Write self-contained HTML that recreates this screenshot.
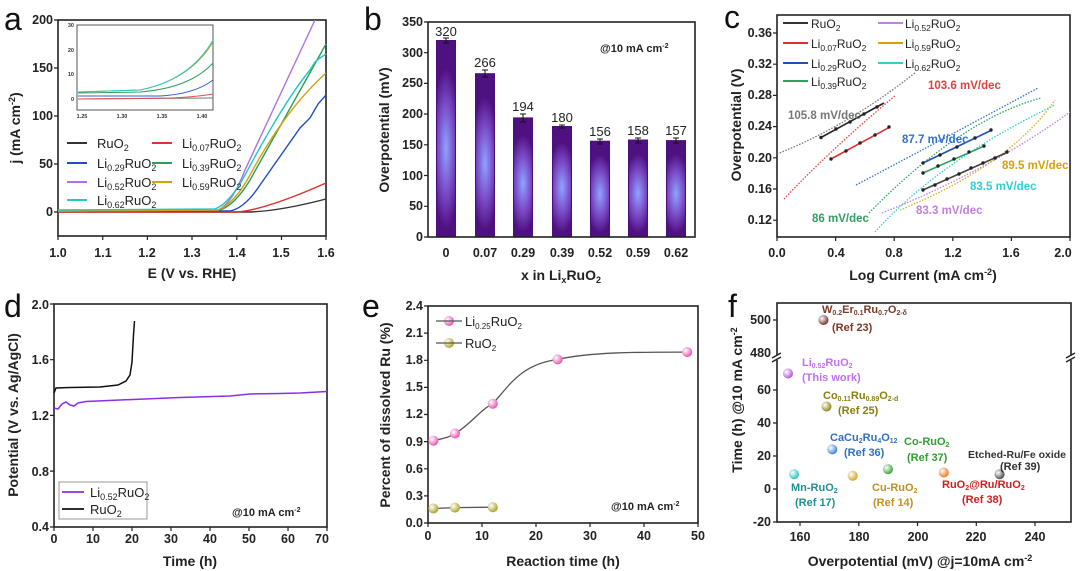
<!DOCTYPE html>
<html><head><meta charset="utf-8"><style>
html,body{margin:0;padding:0;background:#fff;}
svg{display:block;font-family:"Liberation Sans",Arial,sans-serif;}
.t{font-size:12.5px;font-weight:bold;fill:#222;}
.ti{font-size:14px;font-weight:bold;fill:#222;}
.L{font-size:32px;fill:#111;}
.lg{font-size:13px;fill:#222;}
.lc{font-size:12px;fill:#222;}
.sm{font-size:5.5px;font-weight:bold;fill:#333;}
.ax{fill:none;stroke:#222;stroke-width:1.6;}
</style></head><body>
<svg width="1080" height="571" viewBox="0 0 1080 571" xmlns="http://www.w3.org/2000/svg">
<defs>
<radialGradient id="bg" cx="0.5" cy="0.55" r="0.75" gradientTransform="translate(0.5 0.55) scale(1 0.55) translate(-0.5 -0.55)">
<stop offset="0" stop-color="#8fa4ff"/><stop offset="0.55" stop-color="#7a4cc8"/><stop offset="1" stop-color="#4f1080"/></radialGradient>
<radialGradient id="sp" cx="0.35" cy="0.35" r="0.7"><stop offset="0" stop-color="#fff"/><stop offset="1" stop-color="#fff" stop-opacity="0"/></radialGradient>
</defs>

<!-- ===== Panel a ===== -->
<text x="4" y="30" class="L">a</text>
<rect x="58" y="20" width="268" height="216" class="ax"/>
<g class="t" text-anchor="end">
<text x="53" y="24">200</text><text x="53" y="72">150</text><text x="53" y="120">100</text><text x="53" y="168">50</text><text x="53" y="216">0</text></g>
<g stroke="#222" stroke-width="1.2"><path d="M58,20h-4M58,68h-4M58,116h-4M58,164h-4M58,212h-4M58,236v4M102.7,236v4M147.4,236v4M192,236v4M236.8,236v4M281.5,236v4M326,236v4"/></g>
<g class="t" text-anchor="middle"><text x="58" y="257">1.0</text><text x="103" y="257">1.1</text><text x="147" y="257">1.2</text><text x="192" y="257">1.3</text><text x="237" y="257">1.4</text><text x="281" y="257">1.5</text><text x="326" y="257">1.6</text></g>
<text x="192" y="278" class="ti" text-anchor="middle">E (V vs. RHE)</text>
<text transform="translate(20,128) rotate(-90)" class="ti" text-anchor="middle">j (mA cm<tspan font-size="9" dy="-5">-2</tspan><tspan dy="5">)</tspan></text>
<g fill="none" stroke-width="1.4">
<path d="M58,212 L250,212 Q280,211 326,199" stroke="#333"/>
<path d="M58,212 L237,212 Q265,210 326,183" stroke="#e03030"/>
<path d="M58,211 L230,211 Q245,208 260,185 L300,128 L310,118 L318,104 L326,95" stroke="#2050c0"/>
<path d="M58,211 L220,210 Q235,205 250,180 L326,44" stroke="#2aa050"/>
<path d="M58,211 L218,210 Q232,204 245,170 L315,20" stroke="#b070e0"/>
<path d="M58,211 L218,210 Q235,203 250,175 Q285,110 326,73" stroke="#d4a010"/>
<path d="M58,210 L215,209 Q230,203 245,175 Q285,100 310,70 L315,62 L320,58 L326,54" stroke="#20c8c8"/>
</g>
<!-- inset -->
<rect x="77" y="25" width="136" height="85" fill="#fff" stroke="#555" stroke-width="1"/>
<g class="sm" text-anchor="end"><text x="74" y="27">30</text><text x="74" y="52">20</text><text x="74" y="76">10</text><text x="74" y="101">0</text></g>
<g class="sm" text-anchor="middle"><text x="82" y="118">1.25</text><text x="122" y="118">1.30</text><text x="162" y="118">1.35</text><text x="202" y="118">1.40</text></g>
<g fill="none" stroke-width="1">
<path d="M78,99 L213,98" stroke="#777"/>
<path d="M78,99 L170,98 Q195,97 213,94" stroke="#e05050"/>
<path d="M78,96 L160,96 Q195,94 213,80" stroke="#3060d0"/>
<path d="M78,93 L140,92 Q190,88 213,63" stroke="#30a060"/>
<path d="M78,92 L140,90 Q190,80 213,42" stroke="#b0a020"/>
<path d="M78,92 L140,90 Q190,80 213,40" stroke="#30c8c8"/>
</g>
<!-- legend a -->
<g stroke-width="2"><path d="M67,143h20" stroke="#333"/><path d="M152,143h20" stroke="#e03030"/><path d="M67,163h20" stroke="#2050c0"/><path d="M152,163h20" stroke="#2aa050"/><path d="M67,182h20" stroke="#b070e0"/><path d="M152,182h20" stroke="#d4a010"/><path d="M67,200h20" stroke="#20c8c8"/></g>
<g class="lg">
<text x="97" y="148">RuO<tspan font-size="9" dy="3">2</tspan></text>
<text x="182" y="148">Li<tspan font-size="9" dy="3">0.07</tspan><tspan dy="-3">RuO</tspan><tspan font-size="9" dy="3">2</tspan></text>
<text x="97" y="168">Li<tspan font-size="9" dy="3">0.29</tspan><tspan dy="-3">RuO</tspan><tspan font-size="9" dy="3">2</tspan></text>
<text x="182" y="168">Li<tspan font-size="9" dy="3">0.39</tspan><tspan dy="-3">RuO</tspan><tspan font-size="9" dy="3">2</tspan></text>
<text x="97" y="187">Li<tspan font-size="9" dy="3">0.52</tspan><tspan dy="-3">RuO</tspan><tspan font-size="9" dy="3">2</tspan></text>
<text x="182" y="187">Li<tspan font-size="9" dy="3">0.59</tspan><tspan dy="-3">RuO</tspan><tspan font-size="9" dy="3">2</tspan></text>
<text x="97" y="205">Li<tspan font-size="9" dy="3">0.62</tspan><tspan dy="-3">RuO</tspan><tspan font-size="9" dy="3">2</tspan></text>
</g>

<!-- ===== Panel b ===== -->
<text x="364" y="30" class="L">b</text>
<g>
<rect x="436.5" y="40.5" width="19" height="196.5" fill="url(#bg)" stroke="#4a0f78"/>
<rect x="475.5" y="73.7" width="19" height="163.3" fill="url(#bg)" stroke="#4a0f78"/>
<rect x="513.5" y="117.9" width="19" height="119.1" fill="url(#bg)" stroke="#4a0f78"/>
<rect x="552.5" y="126.5" width="19" height="110.5" fill="url(#bg)" stroke="#4a0f78"/>
<rect x="590.5" y="141.2" width="19" height="95.8" fill="url(#bg)" stroke="#4a0f78"/>
<rect x="628.5" y="140" width="19" height="97" fill="url(#bg)" stroke="#4a0f78"/>
<rect x="666.5" y="140.6" width="19" height="96.4" fill="url(#bg)" stroke="#4a0f78"/>
</g>
<g stroke="#111" stroke-width="1"><path d="M446,38v5M443,38h6M443,43h6M485,70v7M482,70h6M482,77h6M523,114v8M520,114h6M520,122h6M562,125v3M559,125h6M559,128h6M600,139v5M597,139h6M597,144h6M638,138v5M635,138h6M635,143h6M676,138v5M673,138h6M673,143h6"/></g>
<g font-size="13" fill="#222" text-anchor="middle"><text x="446" y="36">320</text><text x="485" y="67">266</text><text x="523" y="111">194</text><text x="562" y="122">180</text><text x="600" y="136">156</text><text x="638" y="135">158</text><text x="676" y="135">157</text></g>
<rect x="428" y="22" width="267" height="215" class="ax"/>
<g class="t" text-anchor="end"><text x="423" y="26">350</text><text x="423" y="57">300</text><text x="423" y="87">250</text><text x="423" y="118">200</text><text x="423" y="149">150</text><text x="423" y="180">100</text><text x="423" y="210">50</text><text x="423" y="241">0</text></g>
<g stroke="#222" stroke-width="1.2"><path d="M428,22h-4M428,52.7h-4M428,83.4h-4M428,114h-4M428,144.8h-4M428,175.5h-4M428,206.3h-4M428,237h-4"/></g>
<g class="t" text-anchor="middle"><text x="446" y="257">0</text><text x="485" y="257">0.07</text><text x="523" y="257">0.29</text><text x="562" y="257">0.39</text><text x="600" y="257">0.52</text><text x="638" y="257">0.59</text><text x="676" y="257">0.62</text></g>
<text x="561" y="280" class="ti" text-anchor="middle">x in Li<tspan font-size="9" dy="3">x</tspan><tspan dy="-3">RuO</tspan><tspan font-size="9" dy="3">2</tspan></text>
<text transform="translate(389,130) rotate(-90)" class="ti" text-anchor="middle">Overpotential (mV)</text>
<text x="600" y="52" font-size="11" font-weight="bold" fill="#222">@10 mA cm<tspan font-size="7" dy="-4">-2</tspan></text>

<!-- ===== Panel c ===== -->
<text x="724" y="28" class="L">c</text>
<rect x="777" y="15" width="293" height="222" class="ax"/>
<g class="t" text-anchor="end"><text x="772" y="37">0.36</text><text x="772" y="68">0.32</text><text x="772" y="99">0.28</text><text x="772" y="130">0.24</text><text x="772" y="162">0.20</text><text x="772" y="193">0.16</text><text x="772" y="224">0.12</text></g>
<g stroke="#222" stroke-width="1.2"><path d="M777,33h-4M777,64.2h-4M777,95.4h-4M777,126.6h-4M777,157.8h-4M777,189h-4M777,220.2h-4M777,237v4M835.6,237v4M894.2,237v4M952.8,237v4M1011.4,237v4M1070,237v4"/></g>
<g class="t" text-anchor="middle"><text x="777" y="257">0.0</text><text x="836" y="257">0.4</text><text x="894" y="257">0.8</text><text x="953" y="257">1.2</text><text x="1011" y="257">1.6</text><text x="1063" y="257">2.0</text></g>
<text x="923" y="280" class="ti" text-anchor="middle">Log Current (mA cm<tspan font-size="9" dy="-5">-2</tspan><tspan dy="5">)</tspan></text>
<text transform="translate(741,125) rotate(-90)" class="ti" text-anchor="middle">Overpotential (V)</text>
<g fill="none" stroke-width="1.3" stroke-dasharray="1.5,1.5">
<path d="M777,154 Q850,125 916,72" stroke="#777"/>
<path d="M784,199 Q830,150 896,95" stroke="#e04040"/>
<path d="M856,185 Q960,130 1038,88" stroke="#3070d0"/>
<path d="M869,213 Q960,120 1041,98" stroke="#30a060"/>
<path d="M875,232 Q940,160 1055,105" stroke="#30d0d0"/>
<path d="M882,213 Q990,170 1070,112" stroke="#c080e0"/>
<path d="M900,210 Q1010,165 1055,100" stroke="#d8b020"/>
</g>
<g fill="none" stroke-width="1.6">
<path d="M821,137.5 L884,103" stroke="#222"/>
<path d="M831,159 L890,127" stroke="#e03030"/>
<path d="M923,163 L992,130" stroke="#2050c0"/>
<path d="M923,173 L985,145.7" stroke="#30a060"/>
<path d="M923,190 L1008,152" stroke="#444"/>
</g>
<g fill="#222"><circle cx="821" cy="137.5" r="1.7"/><circle cx="836" cy="129" r="1.7"/><circle cx="850" cy="122" r="1.7"/><circle cx="864" cy="114" r="1.7"/><circle cx="877" cy="107" r="1.7"/>
<circle cx="831" cy="159" r="1.7"/><circle cx="846" cy="151" r="1.7"/><circle cx="860" cy="143" r="1.7"/><circle cx="875" cy="135" r="1.7"/><circle cx="889" cy="127" r="1.7"/>
<circle cx="923" cy="163" r="1.7"/><circle cx="940" cy="155" r="1.7"/><circle cx="957" cy="147" r="1.7"/><circle cx="975" cy="138" r="1.7"/><circle cx="991" cy="130" r="1.7"/>
<circle cx="923" cy="173" r="1.7"/><circle cx="938" cy="166" r="1.7"/><circle cx="954" cy="159" r="1.7"/><circle cx="969" cy="152" r="1.7"/><circle cx="984" cy="146" r="1.7"/>
<circle cx="923" cy="190" r="1.7"/><circle cx="935" cy="185" r="1.7"/><circle cx="947" cy="179" r="1.7"/><circle cx="959" cy="174" r="1.7"/><circle cx="971" cy="168" r="1.7"/><circle cx="983" cy="163" r="1.7"/><circle cx="995" cy="158" r="1.7"/><circle cx="1007" cy="152" r="1.7"/></g>
<g font-size="11.5" font-weight="bold"><text x="788" y="119" fill="#777">105.8 mV/dec</text><text x="928" y="89" fill="#e04040">103.6 mV/dec</text><text x="902" y="143" fill="#3070d0">87.7 mV/dec</text><text x="1002" y="169" fill="#d8a010">89.5 mV/dec</text><text x="970" y="190" fill="#30d0d0">83.5 mV/dec</text><text x="916" y="214" fill="#c080e0">83.3 mV/dec</text><text x="812" y="222" fill="#30a060">86 mV/dec</text></g>
<g stroke-width="2"><path d="M783,23h25" stroke="#333"/><path d="M783,43h25" stroke="#e03030"/><path d="M783,63h25" stroke="#2050c0"/><path d="M783,81h25" stroke="#30a060"/><path d="M878,23h25" stroke="#c080e0"/><path d="M878,43h25" stroke="#d4a010"/><path d="M878,63h25" stroke="#30d0d0"/></g>
<g class="lc">
<text x="811" y="28">RuO<tspan font-size="8.5" dy="3">2</tspan></text>
<text x="811" y="48">Li<tspan font-size="8.5" dy="3">0.07</tspan><tspan dy="-3">RuO</tspan><tspan font-size="8.5" dy="3">2</tspan></text>
<text x="811" y="68">Li<tspan font-size="8.5" dy="3">0.29</tspan><tspan dy="-3">RuO</tspan><tspan font-size="8.5" dy="3">2</tspan></text>
<text x="811" y="86">Li<tspan font-size="8.5" dy="3">0.39</tspan><tspan dy="-3">RuO</tspan><tspan font-size="8.5" dy="3">2</tspan></text>
<text x="905" y="28">Li<tspan font-size="8.5" dy="3">0.52</tspan><tspan dy="-3">RuO</tspan><tspan font-size="8.5" dy="3">2</tspan></text>
<text x="905" y="48">Li<tspan font-size="8.5" dy="3">0.59</tspan><tspan dy="-3">RuO</tspan><tspan font-size="8.5" dy="3">2</tspan></text>
<text x="905" y="68">Li<tspan font-size="8.5" dy="3">0.62</tspan><tspan dy="-3">RuO</tspan><tspan font-size="8.5" dy="3">2</tspan></text>
</g>

<!-- ===== Panel d ===== -->
<text x="4" y="317" class="L">d</text>
<rect x="54" y="304" width="273" height="223" class="ax"/>
<g class="t" text-anchor="end"><text x="49" y="309">2.0</text><text x="49" y="364">1.6</text><text x="49" y="420">1.2</text><text x="49" y="476">0.8</text><text x="49" y="531">0.4</text></g>
<g stroke="#222" stroke-width="1.2"><path d="M54,304h-4M54,359.7h-4M54,415.4h-4M54,471.1h-4M54,527h-4M54,527v4M93,527v4M132,527v4M171,527v4M210,527v4M249,527v4M288,527v4M327,527v4"/></g>
<g class="t" text-anchor="middle"><text x="54" y="543">0</text><text x="93" y="543">10</text><text x="132" y="543">20</text><text x="171" y="543">30</text><text x="210" y="543">40</text><text x="249" y="543">50</text><text x="288" y="543">60</text><text x="322" y="543">70</text></g>
<text x="190" y="566" class="ti" text-anchor="middle">Time (h)</text>
<text transform="translate(18,415) rotate(-90)" class="ti" text-anchor="middle">Potential (V vs. Ag/AgCl)</text>
<path d="M54,408 L58,409 L62,404 L66,402 L70,405 L74,406 L78,403 L86,401.5 L120,400 L180,397.5 L230,396 L250,394 L280,393.5 L300,393 L327,391.5" fill="none" stroke="#8a30e0" stroke-width="1.5"/>
<path d="M54,393 L56,388 L70,387.5 L100,387 L118,385 L126,381 L130,375 L132,362 L133.5,335 L134.5,321" fill="none" stroke="#111" stroke-width="1.5"/>
<rect x="59" y="482" width="88" height="37" fill="#fff" stroke="#999" stroke-width="1"/>
<path d="M62,492h22" stroke="#8a30e0" stroke-width="1.8"/><path d="M62,509h22" stroke="#111" stroke-width="1.8"/>
<g class="lg"><text x="90" y="497">Li<tspan font-size="9" dy="3">0.52</tspan><tspan dy="-3">RuO</tspan><tspan font-size="9" dy="3">2</tspan></text><text x="90" y="514">RuO<tspan font-size="9" dy="3">2</tspan></text></g>
<text x="232" y="516" font-size="11" font-weight="bold" fill="#222">@10 mA cm<tspan font-size="7" dy="-4">-2</tspan></text>

<!-- ===== Panel e ===== -->
<text x="362" y="317" class="L">e</text>
<rect x="428" y="306" width="270" height="217" class="ax"/>
<g class="t" text-anchor="end"><text x="423" y="310">2.4</text><text x="423" y="337">2.1</text><text x="423" y="364">1.8</text><text x="423" y="391">1.5</text><text x="423" y="418">1.2</text><text x="423" y="446">0.9</text><text x="423" y="473">0.6</text><text x="423" y="500">0.3</text><text x="423" y="527">0.0</text></g>
<g stroke="#222" stroke-width="1.2"><path d="M428,306h-4M428,333.1h-4M428,360.3h-4M428,387.4h-4M428,414.5h-4M428,441.6h-4M428,468.8h-4M428,495.9h-4M428,523h-4M428,523v4M482,523v4M536,523v4M590,523v4M644,523v4M698,523v4"/></g>
<g class="t" text-anchor="middle"><text x="428" y="540">0</text><text x="482" y="540">10</text><text x="536" y="540">20</text><text x="590" y="540">30</text><text x="644" y="540">40</text><text x="698" y="540">50</text></g>
<text x="563" y="566" class="ti" text-anchor="middle">Reaction time (h)</text>
<text transform="translate(390,415) rotate(-90)" class="ti" text-anchor="middle">Percent of dissolved Ru (%)</text>
<path d="M433.4,440.7 C445,438 450,437 455,433.5 C470,425 480,410 492.8,403.7 C510,385 520,365 557.6,359.4 C590,352 640,352 687.2,352.1" fill="none" stroke="#555" stroke-width="1.3"/>
<path d="M433.4,508.5 L455,507.6 L492.8,507.2" fill="none" stroke="#555" stroke-width="1.3"/>
<g fill="#e84cb0"><circle cx="433.4" cy="440.7" r="5"/><circle cx="455" cy="433.5" r="5"/><circle cx="492.8" cy="403.7" r="5"/><circle cx="557.6" cy="359.4" r="5"/><circle cx="687.2" cy="352.1" r="5"/><circle cx="449" cy="321" r="5"/></g>
<g fill="#a8a020"><circle cx="433.4" cy="508.5" r="5"/><circle cx="455" cy="507.6" r="5"/><circle cx="492.8" cy="507.2" r="5"/><circle cx="449" cy="343" r="5"/></g>
<g fill="url(#sp)"><circle cx="433.4" cy="440.7" r="5"/><circle cx="455" cy="433.5" r="5"/><circle cx="492.8" cy="403.7" r="5"/><circle cx="557.6" cy="359.4" r="5"/><circle cx="687.2" cy="352.1" r="5"/><circle cx="449" cy="321" r="5"/><circle cx="433.4" cy="508.5" r="5"/><circle cx="455" cy="507.6" r="5"/><circle cx="492.8" cy="507.2" r="5"/><circle cx="449" cy="343" r="5"/></g>
<path d="M436,321h26M436,343h26" stroke="#555" stroke-width="1.2"/>
<g class="lg" font-size="12"><text x="465" y="326">Li<tspan font-size="8" dy="3">0.25</tspan><tspan dy="-3">RuO</tspan><tspan font-size="8" dy="3">2</tspan></text><text x="465" y="348">RuO<tspan font-size="8" dy="3">2</tspan></text></g>
<text x="611" y="510" font-size="11" font-weight="bold" fill="#222">@10 mA cm<tspan font-size="7" dy="-4">-2</tspan></text>

<!-- ===== Panel f ===== -->
<text x="728" y="317" class="L">f</text>
<rect x="777" y="303" width="294" height="219" class="ax"/>
<rect x="772" y="355" width="304" height="5" fill="#fff"/>
<path d="M772,358 l9,-5 M772,362 l9,-5 M1066,358 l9,-5 M1066,362 l9,-5" stroke="#222" stroke-width="1.4"/>
<g class="t" text-anchor="end"><text x="771" y="324">500</text><text x="771" y="357">480</text><text x="771" y="394">60</text><text x="771" y="427">40</text><text x="771" y="460">20</text><text x="771" y="493">0</text><text x="771" y="526">-20</text></g>
<g stroke="#222" stroke-width="1.2"><path d="M777,320h-4M777,390h-4M777,423h-4M777,456h-4M777,489h-4M777,522h-4M800,522v4M858.8,522v4M917.5,522v4M976.3,522v4M1035,522v4"/></g>
<g class="t" text-anchor="middle"><text x="800" y="541">160</text><text x="859" y="541">180</text><text x="918" y="541">200</text><text x="976" y="541">220</text><text x="1035" y="541">240</text></g>
<text x="920" y="566" class="ti" text-anchor="middle">Overpotential (mV) @j=10mA cm<tspan font-size="9" dy="-5">-2</tspan></text>
<text transform="translate(742,400) rotate(-90)" class="ti" text-anchor="middle">Time (h) @10 mA cm<tspan font-size="9" dy="-5">-2</tspan></text>
<g>
<circle cx="823.5" cy="320" r="5" fill="#6a2a20"/>
<circle cx="788" cy="373.5" r="5" fill="#b050e0"/>
<circle cx="826.5" cy="406.5" r="5" fill="#8a8010"/>
<circle cx="832.3" cy="449.4" r="5" fill="#3080d0"/>
<circle cx="794" cy="474.2" r="5" fill="#20c0c0"/>
<circle cx="852.7" cy="475.8" r="5" fill="#d0a020"/>
<circle cx="888" cy="469.2" r="5" fill="#30a030"/>
<circle cx="943.8" cy="472.5" r="5" fill="#f07010"/>
<circle cx="999.6" cy="474.2" r="5" fill="#444"/>
<g fill="url(#sp)"><circle cx="823.5" cy="320" r="5"/><circle cx="788" cy="373.5" r="5"/><circle cx="826.5" cy="406.5" r="5"/><circle cx="832.3" cy="449.4" r="5"/><circle cx="794" cy="474.2" r="5"/><circle cx="852.7" cy="475.8" r="5"/><circle cx="888" cy="469.2" r="5"/><circle cx="943.8" cy="472.5" r="5"/><circle cx="999.6" cy="474.2" r="5"/></g>
</g>
<g font-size="11" font-weight="bold">
<text x="822" y="313" fill="#7a3a28">W<tspan font-size="7" dy="2">0.2</tspan><tspan dy="-2">Er</tspan><tspan font-size="7" dy="2">0.1</tspan><tspan dy="-2">Ru</tspan><tspan font-size="7" dy="2">0.7</tspan><tspan dy="-2">O</tspan><tspan font-size="7" dy="2">2-δ</tspan></text>
<text x="832" y="331" fill="#7a3a28">(Ref 23)</text>
<text x="802" y="366" fill="#c070f0">Li<tspan font-size="7" dy="2">0.52</tspan><tspan dy="-2">RuO</tspan><tspan font-size="7" dy="2">2</tspan></text>
<text x="802" y="381" fill="#c070f0">(This work)</text>
<text x="823" y="399" fill="#8a8010">Co<tspan font-size="7" dy="2">0.11</tspan><tspan dy="-2">Ru</tspan><tspan font-size="7" dy="2">0.89</tspan><tspan dy="-2">O</tspan><tspan font-size="7" dy="2">2-d</tspan></text>
<text x="838" y="414" fill="#8a8010">(Ref 25)</text>
<text x="830" y="441" fill="#3070c0">CaCu<tspan font-size="7" dy="2">2</tspan><tspan dy="-2">Ru</tspan><tspan font-size="7" dy="2">4</tspan><tspan dy="-2">O</tspan><tspan font-size="7" dy="2">12</tspan></text>
<text x="844" y="456" fill="#3070c0">(Ref 36)</text>
<text x="904" y="445" fill="#30a030">Co-RuO<tspan font-size="7" dy="2">2</tspan></text>
<text x="907" y="461" fill="#30a030">(Ref 37)</text>
<text x="968" y="458" fill="#333" font-size="10.5">Etched-Ru/Fe oxide</text>
<text x="1000" y="470" fill="#333">(Ref 39)</text>
<text x="791" y="491" fill="#209090">Mn-RuO<tspan font-size="7" dy="2">2</tspan></text>
<text x="795" y="506" fill="#209090">(Ref 17)</text>
<text x="872" y="491" fill="#c09020">Cu-RuO<tspan font-size="7" dy="2">2</tspan></text>
<text x="873" y="506" fill="#c09020">(Ref 14)</text>
<text x="942" y="488" fill="#d02020">RuO<tspan font-size="7" dy="2">2</tspan><tspan dy="-2">@Ru/RuO</tspan><tspan font-size="7" dy="2">2</tspan></text>
<text x="962" y="503" fill="#d02020">(Ref 38)</text>
</g>
</svg>
</body></html>
